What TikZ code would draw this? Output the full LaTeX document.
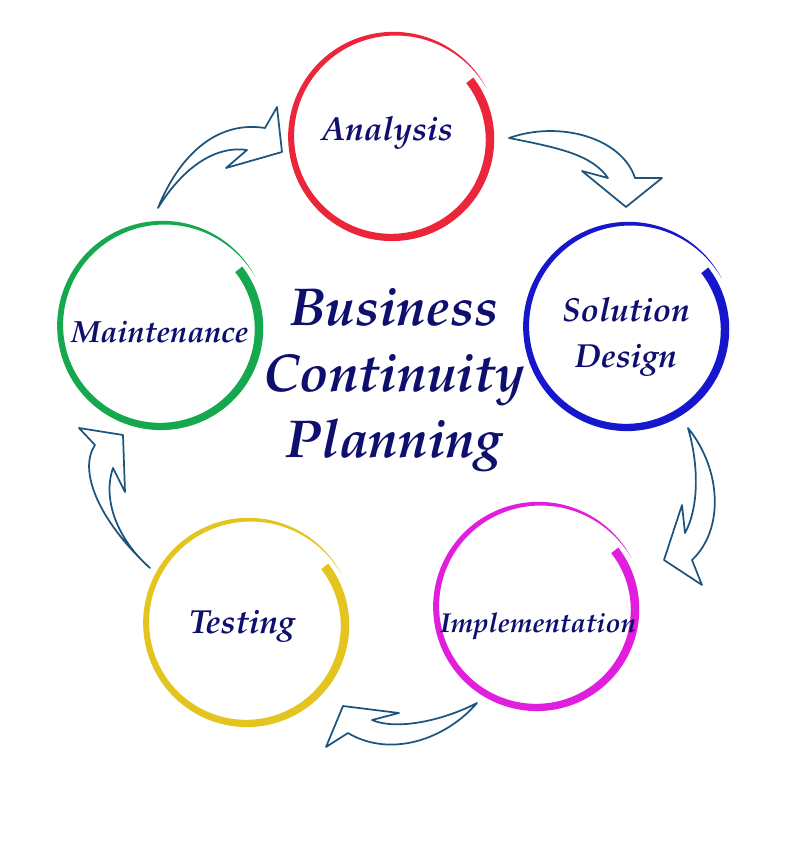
\documentclass[tikz,border=0pt]{standalone}
\usepackage[T1]{fontenc}
\usepackage{mathpazo}
\usepackage{tikz}

\definecolor{navytext}{RGB}{15,15,110}
\definecolor{arrowblue}{RGB}{28,84,125}
\definecolor{ringred}{RGB}{236,38,58}
\definecolor{ringblue}{RGB}{22,22,205}
\definecolor{ringmagenta}{RGB}{226,30,222}
\definecolor{ringyellow}{RGB}{228,196,30}
\definecolor{ringgreen}{RGB}{22,168,78}

\tikzset{
  ringtext/.style={anchor=base, text=navytext, align=center,
    font=\fontsize{25}{34}\selectfont\bfseries\itshape},
  titletext/.style={anchor=base, text=navytext, align=center,
    font=\fontsize{40}{49.5}\selectfont\bfseries\itshape},
  arrowshape/.style={draw=arrowblue, line width=1.3pt, line join=round, fill=white}
}

% brush ring: #1 centre, #2 colour
\newcommand{\drawring}[2]{%
  \fill[#2, shift={#1}]
    plot[domain=0:1, samples=160] ({-37+369*\x}:{96+10*\x+0.5*(9-5*\x)*(1-\x^8)})
    -- plot[domain=1:0, samples=160] ({-37+369*\x}:{96+10*\x-0.5*(9-5*\x)*(1-\x^8)}) -- cycle;
}

\begin{document}
\begin{tikzpicture}[x=0.75pt, y=-0.75pt]
    \useasboundingbox (0,0) rectangle (800,858);

    \drawring{(393,138)}{ringred}
    \drawring{(628,328)}{ringblue}
    \drawring{(538,608)}{ringmagenta}
    \drawring{(248,624)}{ringyellow}
    \drawring{(162,327)}{ringgreen}

    \node[ringtext] (analysis) at (387,140) {Analysis};
    \node[ringtext] (solution) at (626,367) {Solution\\Design};
    \node[ringtext, font=\fontsize{20.5}{24}\selectfont\bfseries\itshape] (implementation) at (538,632) {Implementation};
    \node[ringtext] (testing) at (242,633) {Testing};
    \node[ringtext, font=\fontsize{23}{28}\selectfont\bfseries\itshape] (maintenance) at (160,342) {Maintenance};
    \node[titletext] (title) at (394,457) {Business\\Continuity\\Planning};

    % maintenance -> analysis
    \draw[arrowshape] (158,208) .. controls (178,158) and (215,120) .. (265,128)
        -- (277,107) -- (282,152) -- (226,168) -- (247,150)
        .. controls (212,145) and (180,172) .. (158,208) -- cycle;
    % analysis -> solution design
    \draw[arrowshape] (509,138) .. controls (560,120) and (622,138) .. (635,178)
        -- (662,178) -- (626,207) -- (582,171) -- (608,178)
        .. controls (592,155) and (560,148) .. (509,138) -- cycle;
    % solution design -> implementation
    \draw[arrowshape] (688,428) .. controls (722,470) and (724,530) .. (692,560)
        -- (702,585) -- (664,560) -- (682,505) -- (685,533)
        .. controls (700,505) and (698,462) .. (688,428) -- cycle;
    % implementation -> testing
    \draw[arrowshape] (477,703) .. controls (445,740) and (390,758) .. (348,733)
        -- (326,747) -- (343,706) -- (399,713) -- (372,720)
        .. controls (395,730) and (440,722) .. (477,703) -- cycle;
    % testing -> maintenance
    \draw[arrowshape] (150,568) .. controls (98,520) and (78,470) .. (95,445)
        -- (79,428) -- (123,435) -- (125,492) -- (113,468)
        .. controls (102,500) and (118,540) .. (150,568) -- cycle;
\end{tikzpicture}
\end{document}
